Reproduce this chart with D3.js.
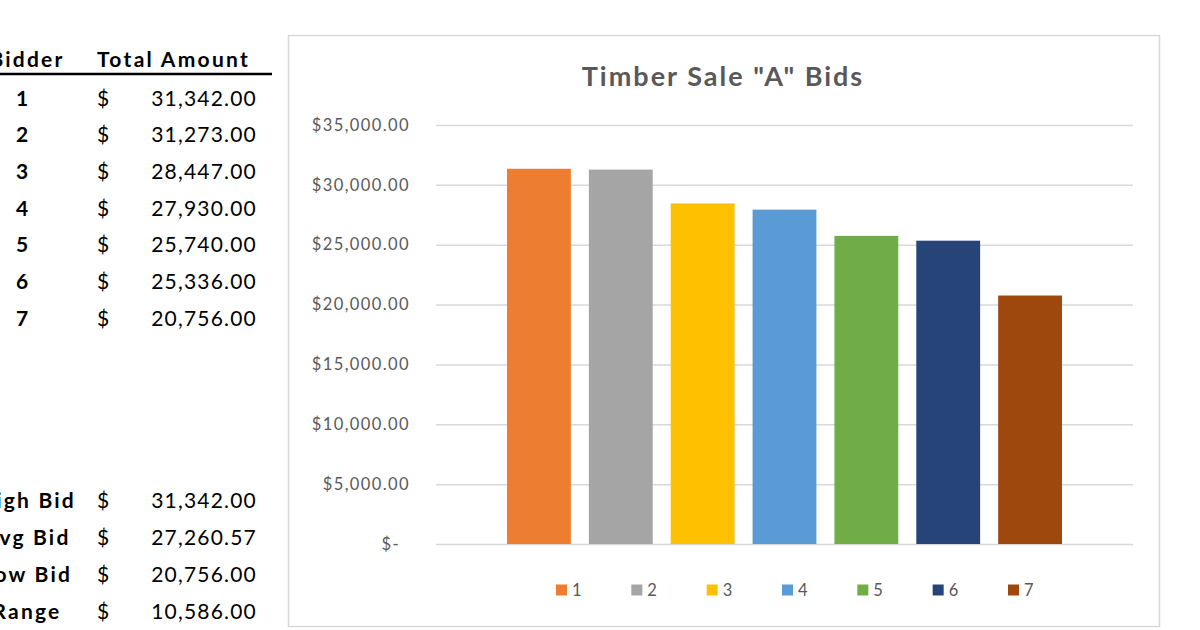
<!DOCTYPE html>
<meta charset="utf-8">
<head>
    <script src="https://d3js.org/d3.v7.min.js"></script>
    <style>
        body { margin: 0; background: #fff; }
        svg { font-family: Lato, "Open Sans", sans-serif; }
    </style>
</head>
<body>
<div id="my_dataviz"></div>
<script>

    // bid table + chart data
    const bidders = ["1", "2", "3", "4", "5", "6", "7"];
    const amounts = [31342, 31273, 28447, 27930, 25740, 25336, 20756];
    const barColors = ["#ED7D31", "#A5A5A5", "#FFC000", "#5B9BD5", "#70AD47", "#264478", "#9E480E"];
    const yTicks = [0, 5000, 10000, 15000, 20000, 25000, 30000, 35000];
    const summaryLabels = ["High Bid", "Avg Bid", "Low Bid", "Range"];
    const summaryValues = [31342, 27260.57, 20756, 10586];

    const textColor = "#595959";
    const money = d3.format(",.2f");

    const svg = d3.select("#my_dataviz").append("svg")
        .attr("width", 1200)
        .attr("height", 630)

    // ---- left table (the sheet is scrolled, so the first column is cut at the left edge) ----
    const table = svg.append("g").attr("class", "table")

    table.append("text")
        .attr("x", 27)
        .attr("y", 58)
        .attr("text-anchor", "middle")
        .attr("dominant-baseline", "central")
        .attr("font-size", 21)
        .attr("font-weight", "bold")
        .attr("letter-spacing", 2.2)
        .attr("fill", "#000")
        .text("Bidder")

    table.append("text")
        .attr("x", 97)
        .attr("y", 58)
        .attr("dominant-baseline", "central")
        .attr("font-size", 21)
        .attr("font-weight", "bold")
        .attr("letter-spacing", 2.3)
        .attr("fill", "#000")
        .text("Total Amount")

    table.append("line")
        .attr("x1", 0)
        .attr("x2", 272)
        .attr("y1", 74)
        .attr("y2", 74)
        .attr("stroke", "#000")
        .attr("stroke-width", 2.5)

    const rowY = d3.scalePoint()
        .domain(bidders)
        .range([97, 317])

    const rows = table.selectAll("g.row")
        .data(bidders)
        .enter()
        .append("g")
        .attr("class", "row")
        .attr("transform", d => `translate(0, ${rowY(d)})`)

    rows.append("text")
        .attr("x", 22)
        .attr("text-anchor", "middle")
        .attr("dominant-baseline", "central")
        .attr("font-size", 21)
        .attr("font-weight", "bold")
        .attr("fill", "#000")
        .text(d => d)

    rows.append("text")
        .attr("x", 97)
        .attr("dominant-baseline", "central")
        .attr("font-size", 21)
        .attr("fill", "#000")
        .text("$")

    rows.append("text")
        .attr("x", 257)
        .attr("text-anchor", "end")
        .attr("dominant-baseline", "central")
        .attr("font-size", 21)
        .attr("letter-spacing", 1.2)
        .attr("fill", "#000")
        .text((d, i) => money(amounts[i]))

    const sumY = d3.scalePoint()
        .domain(summaryLabels)
        .range([499, 610])

    const sums = table.selectAll("g.sum")
        .data(summaryLabels)
        .enter()
        .append("g")
        .attr("class", "sum")
        .attr("transform", d => `translate(0, ${sumY(d)})`)

    sums.append("text")
        .attr("x", 27)
        .attr("text-anchor", "middle")
        .attr("dominant-baseline", "central")
        .attr("font-size", 21)
        .attr("font-weight", "bold")
        .attr("letter-spacing", 2.2)
        .attr("fill", "#000")
        .text(d => d)

    sums.append("text")
        .attr("x", 97)
        .attr("dominant-baseline", "central")
        .attr("font-size", 21)
        .attr("fill", "#000")
        .text("$")

    sums.append("text")
        .attr("x", 257)
        .attr("text-anchor", "end")
        .attr("dominant-baseline", "central")
        .attr("font-size", 21)
        .attr("letter-spacing", 1.2)
        .attr("fill", "#000")
        .text((d, i) => money(summaryValues[i]))

    // ---- chart box ----
    svg.append("rect")
        .attr("x", 288.5)
        .attr("y", 35.5)
        .attr("width", 871)
        .attr("height", 591)
        .attr("fill", "#fff")
        .attr("stroke", "#D9D9D9")
        .attr("stroke-width", 1.5)

    svg.append("text")
        .attr("x", 723)
        .attr("y", 75)
        .attr("text-anchor", "middle")
        .attr("dominant-baseline", "central")
        .attr("font-size", 27)
        .attr("font-weight", "bold")
        .attr("letter-spacing", 2)
        .attr("fill", textColor)
        .text('Timber Sale "A" Bids')

    const plotLeft = 436, plotRight = 1133;

    const y = d3.scaleLinear()
        .domain([0, 35000])
        .range([544, 125])

    // one category with seven series -> bars sit in the middle of the plot
    const x = d3.scaleBand()
        .domain(bidders)
        .range([498, 1071])
        .paddingInner(0.22)
        .paddingOuter(0.11)

    const leftAxis = d3.axisLeft(y)
        .tickValues(yTicks)
        .tickSize(-(plotRight - plotLeft))
        .tickPadding(26)
        .tickFormat(d => d === 0 ? "$-" : "$" + money(d))

    const yAxis = svg.append("g")
        .attr("class", "left axis")
        .attr("transform", `translate(${plotLeft}, 0)`)
        .call(leftAxis)

    yAxis.select(".domain").remove()
    yAxis.selectAll(".tick line")
        .attr("stroke", "#D9D9D9")
        .attr("stroke-width", 1.5)
    yAxis.selectAll(".tick text")
        .attr("font-family", "Lato, sans-serif")
        .attr("font-size", 16.5)
        .attr("letter-spacing", 1.4)
        .attr("fill", textColor)
        .attr("dx", d => d === 0 ? -10 : 0)

    svg.selectAll("rect.bar")
        .data(bidders)
        .enter()
        .append("rect")
        .attr("class", "bar")
        .attr("x", d => x(d))
        .attr("width", x.bandwidth())
        .attr("y", (d, i) => y(amounts[i]))
        .attr("height", (d, i) => y(0) - y(amounts[i]))
        .attr("fill", (d, i) => barColors[i])

    // ---- legend ----
    const legX = d3.scalePoint()
        .domain(bidders)
        .range([556, 1008])

    const legend = svg.selectAll("g.legend")
        .data(bidders)
        .enter()
        .append("g")
        .attr("class", "legend")
        .attr("transform", d => `translate(${legX(d)}, 590)`)

    legend.append("rect")
        .attr("x", 0)
        .attr("y", -5.5)
        .attr("width", 11)
        .attr("height", 11)
        .attr("fill", (d, i) => barColors[i])

    legend.append("text")
        .attr("x", 16)
        .attr("dominant-baseline", "central")
        .attr("font-size", 16.5)
        .attr("fill", textColor)
        .text(d => d)

</script>
</body>
